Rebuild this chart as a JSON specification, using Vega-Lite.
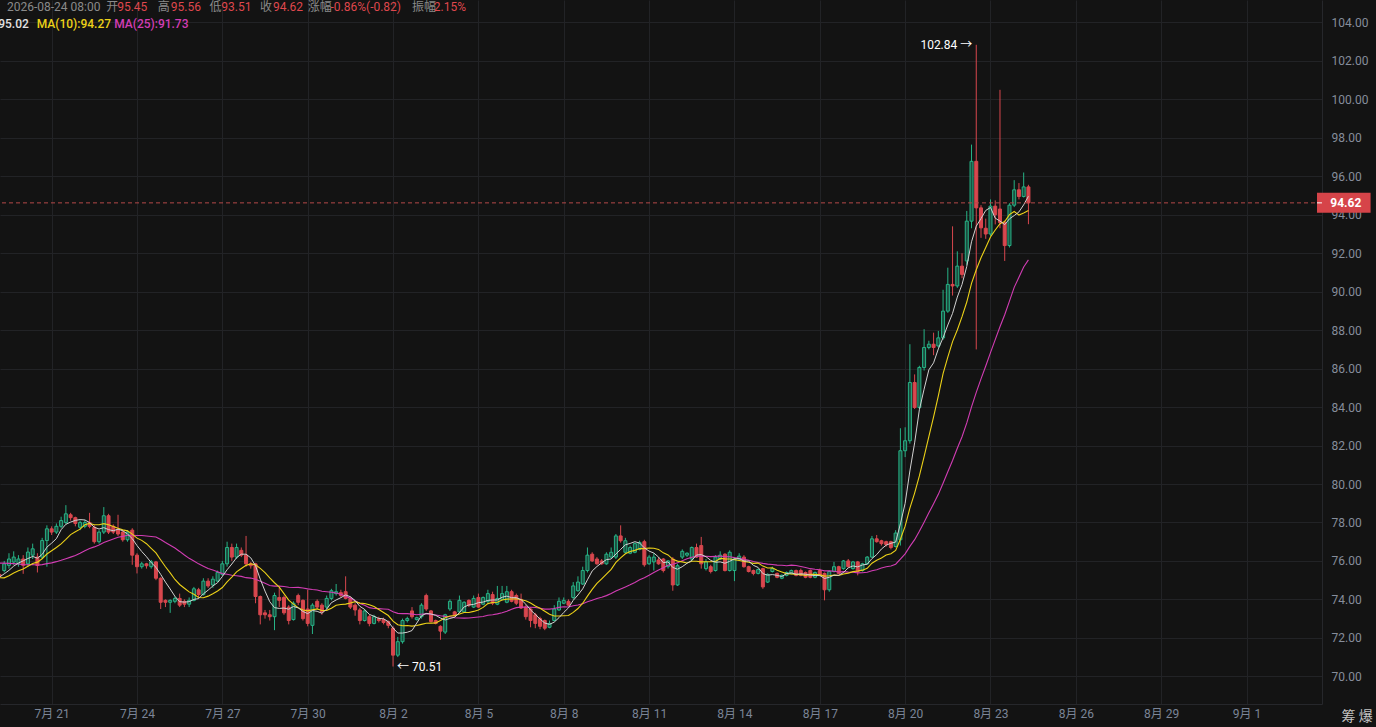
{
  "$schema": "https://vega.github.io/schema/vega-lite/v6.json",
  "width": 1322,
  "height": 704,
  "autosize": {"type": "none"},
  "padding": {"left": 0, "top": 0, "right": 54, "bottom": 23},
  "background": "#131313",
  "config": {
    "view": {"stroke": null},
    "text": {"font": "Roboto, Noto Sans CJK SC"},
    "axis": {"labelFont": "Roboto, Noto Sans CJK SC", "titleFont": "Noto Sans CJK SC"}
  },
  "data": {
    "values": [
      {"t":"2026-07-15T08:00Z","o":76.2,"h":76.6,"l":76.0,"c":76.4},
      {"t":"2026-07-15T12:00Z","o":76.4,"h":76.7,"l":76.2,"c":76.5},
      {"t":"2026-07-15T16:00Z","o":76.5,"h":76.8,"l":76.3,"c":76.6},
      {"t":"2026-07-15T20:00Z","o":76.6,"h":76.9,"l":76.4,"c":76.7},
      {"t":"2026-07-16T00:00Z","o":76.7,"h":76.9,"l":76.3,"c":76.4},
      {"t":"2026-07-16T04:00Z","o":76.4,"h":76.7,"l":76.2,"c":76.5},
      {"t":"2026-07-16T08:00Z","o":76.5,"h":76.8,"l":76.3,"c":76.6},
      {"t":"2026-07-16T12:00Z","o":76.6,"h":76.7,"l":76.2,"c":76.3},
      {"t":"2026-07-16T16:00Z","o":76.3,"h":76.6,"l":76.1,"c":76.4},
      {"t":"2026-07-16T20:00Z","o":76.4,"h":76.7,"l":76.2,"c":76.5},
      {"t":"2026-07-17T00:00Z","o":76.5,"h":76.6,"l":76.1,"c":76.2},
      {"t":"2026-07-17T04:00Z","o":76.2,"h":76.5,"l":76.0,"c":76.3},
      {"t":"2026-07-17T08:00Z","o":76.3,"h":76.6,"l":76.1,"c":76.4},
      {"t":"2026-07-17T12:00Z","o":76.4,"h":76.5,"l":76.0,"c":76.2},
      {"t":"2026-07-17T16:00Z","o":76.2,"h":76.4,"l":75.7,"c":75.9},
      {"t":"2026-07-17T20:00Z","o":75.9,"h":76.0,"l":74.8,"c":75.0},
      {"t":"2026-07-18T00:00Z","o":75.0,"h":75.2,"l":74.6,"c":74.8},
      {"t":"2026-07-18T04:00Z","o":74.8,"h":75.1,"l":74.6,"c":74.9},
      {"t":"2026-07-18T08:00Z","o":74.9,"h":75.1,"l":74.7,"c":74.85},
      {"t":"2026-07-18T12:00Z","o":74.85,"h":75.2,"l":74.8,"c":75.0},
      {"t":"2026-07-18T16:00Z","o":75.0,"h":75.4,"l":74.9,"c":75.2},
      {"t":"2026-07-18T20:00Z","o":75.2,"h":75.4,"l":75.0,"c":75.1},
      {"t":"2026-07-19T00:00Z","o":75.1,"h":75.5,"l":75.0,"c":75.3},
      {"t":"2026-07-19T04:00Z","o":75.3,"h":75.5,"l":75.0,"c":75.2},
      {"t":"2026-07-19T08:00Z","o":75.5,"h":76.0,"l":75.4,"c":75.85},
      {"t":"2026-07-19T12:00Z","o":75.77,"h":76.4,"l":75.6,"c":76.1},
      {"t":"2026-07-19T16:00Z","o":75.94,"h":76.5,"l":75.8,"c":76.2},
      {"t":"2026-07-19T20:00Z","o":75.85,"h":76.3,"l":75.7,"c":76.1},
      {"t":"2026-07-20T00:00Z","o":76.1,"h":76.3,"l":75.33,"c":75.77},
      {"t":"2026-07-20T04:00Z","o":75.85,"h":76.7,"l":75.7,"c":76.46},
      {"t":"2026-07-20T08:00Z","o":76.3,"h":76.9,"l":76.1,"c":76.63},
      {"t":"2026-07-20T12:00Z","o":76.2,"h":76.4,"l":75.4,"c":75.77},
      {"t":"2026-07-20T16:00Z","o":76.2,"h":77.2,"l":76.1,"c":77.06},
      {"t":"2026-07-20T20:00Z","o":77.06,"h":77.85,"l":75.7,"c":77.67},
      {"t":"2026-07-21T00:00Z","o":77.67,"h":77.8,"l":77.35,"c":77.5},
      {"t":"2026-07-21T04:00Z","o":77.5,"h":77.95,"l":77.4,"c":77.8},
      {"t":"2026-07-21T08:00Z","o":77.8,"h":78.3,"l":77.7,"c":78.1},
      {"t":"2026-07-21T12:00Z","o":78.0,"h":78.9,"l":77.9,"c":78.45},
      {"t":"2026-07-21T16:00Z","o":78.4,"h":78.5,"l":78.1,"c":78.25},
      {"t":"2026-07-21T20:00Z","o":78.25,"h":78.3,"l":77.8,"c":77.95},
      {"t":"2026-07-22T00:00Z","o":77.75,"h":78.1,"l":77.6,"c":78.0},
      {"t":"2026-07-22T04:00Z","o":77.8,"h":78.15,"l":77.7,"c":78.0},
      {"t":"2026-07-22T08:00Z","o":78.0,"h":78.5,"l":77.7,"c":77.8},
      {"t":"2026-07-22T12:00Z","o":77.75,"h":77.85,"l":76.9,"c":77.0},
      {"t":"2026-07-22T16:00Z","o":77.0,"h":77.6,"l":76.9,"c":77.5},
      {"t":"2026-07-22T20:00Z","o":77.5,"h":78.8,"l":77.4,"c":78.35},
      {"t":"2026-07-23T00:00Z","o":78.35,"h":78.45,"l":77.4,"c":77.5},
      {"t":"2026-07-23T04:00Z","o":77.8,"h":77.9,"l":77.4,"c":77.5},
      {"t":"2026-07-23T08:00Z","o":77.65,"h":78.4,"l":77.3,"c":77.4},
      {"t":"2026-07-23T12:00Z","o":77.5,"h":77.6,"l":77.0,"c":77.1},
      {"t":"2026-07-23T16:00Z","o":77.1,"h":77.6,"l":77.0,"c":77.5},
      {"t":"2026-07-23T20:00Z","o":77.6,"h":77.7,"l":75.8,"c":76.3},
      {"t":"2026-07-24T00:00Z","o":76.3,"h":76.4,"l":75.35,"c":75.7},
      {"t":"2026-07-24T04:00Z","o":75.7,"h":75.95,"l":75.6,"c":75.85},
      {"t":"2026-07-24T08:00Z","o":75.85,"h":75.9,"l":75.6,"c":75.75},
      {"t":"2026-07-24T12:00Z","o":75.7,"h":76.05,"l":75.6,"c":75.95},
      {"t":"2026-07-24T16:00Z","o":75.95,"h":76.0,"l":75.0,"c":75.1},
      {"t":"2026-07-24T20:00Z","o":75.1,"h":75.15,"l":73.5,"c":73.85},
      {"t":"2026-07-25T00:00Z","o":73.95,"h":74.0,"l":73.6,"c":73.85},
      {"t":"2026-07-25T04:00Z","o":73.85,"h":74.0,"l":73.3,"c":73.95},
      {"t":"2026-07-25T08:00Z","o":73.9,"h":74.15,"l":73.8,"c":74.05},
      {"t":"2026-07-25T12:00Z","o":74.05,"h":74.3,"l":73.6,"c":73.7},
      {"t":"2026-07-25T16:00Z","o":73.9,"h":74.0,"l":73.6,"c":73.75},
      {"t":"2026-07-25T20:00Z","o":73.75,"h":74.1,"l":73.6,"c":73.95},
      {"t":"2026-07-26T00:00Z","o":73.95,"h":74.65,"l":73.9,"c":74.55},
      {"t":"2026-07-26T04:00Z","o":74.5,"h":74.6,"l":74.1,"c":74.25},
      {"t":"2026-07-26T08:00Z","o":74.25,"h":75.1,"l":74.2,"c":74.95},
      {"t":"2026-07-26T12:00Z","o":74.95,"h":75.1,"l":74.6,"c":74.7},
      {"t":"2026-07-26T16:00Z","o":74.75,"h":75.2,"l":74.6,"c":75.05},
      {"t":"2026-07-26T20:00Z","o":74.95,"h":75.5,"l":74.9,"c":75.4},
      {"t":"2026-07-27T00:00Z","o":75.3,"h":76.0,"l":75.2,"c":75.85},
      {"t":"2026-07-27T04:00Z","o":75.85,"h":77.0,"l":75.7,"c":76.7},
      {"t":"2026-07-27T08:00Z","o":76.7,"h":76.9,"l":76.0,"c":76.2},
      {"t":"2026-07-27T12:00Z","o":76.2,"h":76.9,"l":76.1,"c":76.7},
      {"t":"2026-07-27T16:00Z","o":76.55,"h":76.7,"l":76.2,"c":76.3},
      {"t":"2026-07-27T20:00Z","o":76.3,"h":77.3,"l":75.7,"c":75.85},
      {"t":"2026-07-28T00:00Z","o":75.85,"h":75.95,"l":75.6,"c":75.75},
      {"t":"2026-07-28T04:00Z","o":75.85,"h":75.9,"l":73.8,"c":74.15},
      {"t":"2026-07-28T08:00Z","o":74.15,"h":74.2,"l":72.7,"c":73.2},
      {"t":"2026-07-28T12:00Z","o":73.3,"h":73.45,"l":73.0,"c":73.2},
      {"t":"2026-07-28T16:00Z","o":73.2,"h":73.45,"l":72.9,"c":73.1},
      {"t":"2026-07-28T20:00Z","o":73.1,"h":74.35,"l":72.4,"c":74.2},
      {"t":"2026-07-29T00:00Z","o":74.1,"h":74.6,"l":73.6,"c":73.95},
      {"t":"2026-07-29T04:00Z","o":74.1,"h":74.2,"l":73.2,"c":73.3},
      {"t":"2026-07-29T08:00Z","o":73.6,"h":73.7,"l":72.7,"c":72.9},
      {"t":"2026-07-29T12:00Z","o":72.95,"h":73.9,"l":72.9,"c":73.8},
      {"t":"2026-07-29T16:00Z","o":74.2,"h":74.3,"l":73.7,"c":73.85},
      {"t":"2026-07-29T20:00Z","o":73.95,"h":74.0,"l":72.9,"c":73.0},
      {"t":"2026-07-30T00:00Z","o":73.5,"h":74.5,"l":72.6,"c":72.75},
      {"t":"2026-07-30T04:00Z","o":72.65,"h":73.8,"l":72.2,"c":73.7},
      {"t":"2026-07-30T08:00Z","o":73.9,"h":74.0,"l":73.5,"c":73.6},
      {"t":"2026-07-30T12:00Z","o":73.7,"h":73.8,"l":73.2,"c":73.35},
      {"t":"2026-07-30T16:00Z","o":73.6,"h":74.2,"l":73.5,"c":74.05},
      {"t":"2026-07-30T20:00Z","o":74.05,"h":74.55,"l":73.95,"c":74.45},
      {"t":"2026-07-31T00:00Z","o":74.3,"h":74.8,"l":74.2,"c":74.4},
      {"t":"2026-07-31T04:00Z","o":74.35,"h":74.5,"l":74.1,"c":74.2},
      {"t":"2026-07-31T08:00Z","o":74.4,"h":75.2,"l":74.0,"c":74.05},
      {"t":"2026-07-31T12:00Z","o":74.05,"h":74.15,"l":73.5,"c":73.6},
      {"t":"2026-07-31T16:00Z","o":73.7,"h":73.8,"l":73.15,"c":73.45},
      {"t":"2026-07-31T20:00Z","o":73.45,"h":73.55,"l":72.7,"c":72.9},
      {"t":"2026-08-01T00:00Z","o":72.9,"h":73.5,"l":72.85,"c":73.4},
      {"t":"2026-08-01T04:00Z","o":73.1,"h":73.2,"l":72.6,"c":72.75},
      {"t":"2026-08-01T08:00Z","o":72.75,"h":73.2,"l":72.7,"c":73.1},
      {"t":"2026-08-01T12:00Z","o":73.0,"h":73.1,"l":72.8,"c":72.9},
      {"t":"2026-08-01T16:00Z","o":72.95,"h":73.05,"l":72.7,"c":72.8},
      {"t":"2026-08-01T20:00Z","o":72.85,"h":72.9,"l":72.5,"c":72.65},
      {"t":"2026-08-02T00:00Z","o":72.5,"h":72.6,"l":70.51,"c":71.1},
      {"t":"2026-08-02T04:00Z","o":71.1,"h":72.05,"l":71.0,"c":71.8},
      {"t":"2026-08-02T08:00Z","o":71.8,"h":73.0,"l":71.7,"c":72.9},
      {"t":"2026-08-02T12:00Z","o":72.9,"h":73.1,"l":72.8,"c":73.0},
      {"t":"2026-08-02T16:00Z","o":73.4,"h":73.6,"l":73.0,"c":73.1},
      {"t":"2026-08-02T20:00Z","o":72.95,"h":73.1,"l":72.9,"c":73.05},
      {"t":"2026-08-03T00:00Z","o":73.1,"h":73.8,"l":73.0,"c":73.7},
      {"t":"2026-08-03T04:00Z","o":74.2,"h":74.3,"l":73.4,"c":73.5},
      {"t":"2026-08-03T08:00Z","o":73.4,"h":73.45,"l":72.8,"c":72.85},
      {"t":"2026-08-03T12:00Z","o":72.9,"h":72.95,"l":72.7,"c":72.75},
      {"t":"2026-08-03T16:00Z","o":72.6,"h":72.65,"l":71.9,"c":72.35},
      {"t":"2026-08-03T20:00Z","o":72.3,"h":73.25,"l":72.2,"c":73.2},
      {"t":"2026-08-04T00:00Z","o":73.5,"h":74.0,"l":73.4,"c":73.9},
      {"t":"2026-08-04T04:00Z","o":73.35,"h":73.4,"l":73.1,"c":73.15},
      {"t":"2026-08-04T08:00Z","o":73.35,"h":74.2,"l":73.3,"c":73.95},
      {"t":"2026-08-04T12:00Z","o":73.35,"h":73.9,"l":73.3,"c":73.85},
      {"t":"2026-08-04T16:00Z","o":73.95,"h":74.0,"l":73.6,"c":73.7},
      {"t":"2026-08-04T20:00Z","o":73.6,"h":74.2,"l":73.55,"c":74.05},
      {"t":"2026-08-05T00:00Z","o":74.1,"h":74.3,"l":73.55,"c":73.6},
      {"t":"2026-08-05T04:00Z","o":73.75,"h":74.15,"l":73.7,"c":74.1},
      {"t":"2026-08-05T08:00Z","o":73.9,"h":74.5,"l":73.8,"c":74.3},
      {"t":"2026-08-05T12:00Z","o":74.25,"h":74.4,"l":73.7,"c":73.8},
      {"t":"2026-08-05T16:00Z","o":73.75,"h":74.7,"l":73.7,"c":74.05},
      {"t":"2026-08-05T20:00Z","o":74.0,"h":74.7,"l":73.95,"c":74.3},
      {"t":"2026-08-06T00:00Z","o":73.85,"h":74.7,"l":73.8,"c":74.4},
      {"t":"2026-08-06T04:00Z","o":74.4,"h":74.5,"l":73.85,"c":73.9},
      {"t":"2026-08-06T08:00Z","o":74.2,"h":74.3,"l":73.7,"c":73.8},
      {"t":"2026-08-06T12:00Z","o":74.0,"h":74.3,"l":73.5,"c":73.55},
      {"t":"2026-08-06T16:00Z","o":73.6,"h":73.7,"l":72.95,"c":73.1},
      {"t":"2026-08-06T20:00Z","o":73.5,"h":73.6,"l":72.55,"c":72.9},
      {"t":"2026-08-07T00:00Z","o":73.2,"h":73.3,"l":72.5,"c":72.75},
      {"t":"2026-08-07T04:00Z","o":73.0,"h":73.1,"l":72.45,"c":72.6},
      {"t":"2026-08-07T08:00Z","o":72.9,"h":72.95,"l":72.4,"c":72.5},
      {"t":"2026-08-07T12:00Z","o":72.55,"h":72.9,"l":72.5,"c":72.75},
      {"t":"2026-08-07T16:00Z","o":72.9,"h":73.7,"l":72.85,"c":73.5},
      {"t":"2026-08-07T20:00Z","o":73.45,"h":74.1,"l":73.4,"c":73.9},
      {"t":"2026-08-08T00:00Z","o":73.8,"h":74.1,"l":73.75,"c":73.95},
      {"t":"2026-08-08T04:00Z","o":73.9,"h":74.0,"l":73.65,"c":73.7},
      {"t":"2026-08-08T08:00Z","o":74.1,"h":74.9,"l":74.0,"c":74.7},
      {"t":"2026-08-08T12:00Z","o":74.45,"h":75.2,"l":74.4,"c":74.9},
      {"t":"2026-08-08T16:00Z","o":74.8,"h":75.7,"l":74.75,"c":75.5},
      {"t":"2026-08-08T20:00Z","o":75.5,"h":76.7,"l":75.4,"c":76.3},
      {"t":"2026-08-09T00:00Z","o":76.35,"h":76.45,"l":75.95,"c":76.0},
      {"t":"2026-08-09T04:00Z","o":76.1,"h":76.2,"l":75.8,"c":75.85},
      {"t":"2026-08-09T08:00Z","o":76.0,"h":76.1,"l":75.8,"c":75.85},
      {"t":"2026-08-09T12:00Z","o":75.85,"h":76.45,"l":75.8,"c":76.35},
      {"t":"2026-08-09T16:00Z","o":76.2,"h":76.7,"l":76.15,"c":76.45},
      {"t":"2026-08-09T20:00Z","o":76.2,"h":77.4,"l":76.1,"c":77.3},
      {"t":"2026-08-10T00:00Z","o":77.3,"h":77.85,"l":76.95,"c":77.05},
      {"t":"2026-08-10T04:00Z","o":76.45,"h":77.2,"l":76.4,"c":77.05},
      {"t":"2026-08-10T08:00Z","o":76.4,"h":76.8,"l":76.35,"c":76.7},
      {"t":"2026-08-10T12:00Z","o":76.45,"h":76.95,"l":76.4,"c":76.9},
      {"t":"2026-08-10T16:00Z","o":76.6,"h":77.05,"l":76.55,"c":76.95},
      {"t":"2026-08-10T20:00Z","o":77.0,"h":77.1,"l":75.7,"c":75.8},
      {"t":"2026-08-11T00:00Z","o":75.85,"h":76.3,"l":75.8,"c":76.2},
      {"t":"2026-08-11T04:00Z","o":75.95,"h":76.4,"l":75.5,"c":76.2},
      {"t":"2026-08-11T08:00Z","o":76.05,"h":76.2,"l":75.8,"c":75.85},
      {"t":"2026-08-11T12:00Z","o":76.1,"h":76.15,"l":75.4,"c":75.5},
      {"t":"2026-08-11T16:00Z","o":75.7,"h":76.05,"l":75.6,"c":76.0},
      {"t":"2026-08-11T20:00Z","o":76.1,"h":76.2,"l":74.45,"c":74.75},
      {"t":"2026-08-12T00:00Z","o":74.75,"h":75.85,"l":74.7,"c":75.75},
      {"t":"2026-08-12T04:00Z","o":76.2,"h":76.6,"l":76.1,"c":76.5},
      {"t":"2026-08-12T08:00Z","o":76.3,"h":76.45,"l":76.2,"c":76.4},
      {"t":"2026-08-12T12:00Z","o":76.1,"h":76.75,"l":76.0,"c":76.7},
      {"t":"2026-08-12T16:00Z","o":76.7,"h":76.9,"l":76.15,"c":76.2},
      {"t":"2026-08-12T20:00Z","o":76.8,"h":77.25,"l":75.6,"c":75.85},
      {"t":"2026-08-13T00:00Z","o":75.6,"h":76.1,"l":75.5,"c":75.95},
      {"t":"2026-08-13T04:00Z","o":75.7,"h":75.8,"l":75.35,"c":75.45},
      {"t":"2026-08-13T08:00Z","o":75.5,"h":76.3,"l":75.45,"c":76.2},
      {"t":"2026-08-13T12:00Z","o":76.1,"h":76.5,"l":76.05,"c":76.3},
      {"t":"2026-08-13T16:00Z","o":76.35,"h":76.4,"l":75.45,"c":75.5},
      {"t":"2026-08-13T20:00Z","o":75.5,"h":76.55,"l":75.45,"c":76.45},
      {"t":"2026-08-14T00:00Z","o":75.5,"h":76.2,"l":74.95,"c":76.1},
      {"t":"2026-08-14T04:00Z","o":76.1,"h":76.4,"l":76.0,"c":76.25},
      {"t":"2026-08-14T08:00Z","o":76.2,"h":76.3,"l":75.65,"c":75.7},
      {"t":"2026-08-14T12:00Z","o":75.7,"h":75.75,"l":75.4,"c":75.45},
      {"t":"2026-08-14T16:00Z","o":75.5,"h":75.55,"l":75.25,"c":75.35},
      {"t":"2026-08-14T20:00Z","o":75.35,"h":75.6,"l":75.3,"c":75.55},
      {"t":"2026-08-15T00:00Z","o":75.6,"h":75.65,"l":74.55,"c":74.65},
      {"t":"2026-08-15T04:00Z","o":74.9,"h":75.35,"l":74.85,"c":75.3},
      {"t":"2026-08-15T08:00Z","o":75.45,"h":75.7,"l":75.4,"c":75.6},
      {"t":"2026-08-15T12:00Z","o":75.35,"h":75.4,"l":75.1,"c":75.15},
      {"t":"2026-08-15T16:00Z","o":75.1,"h":75.3,"l":75.05,"c":75.25},
      {"t":"2026-08-15T20:00Z","o":75.25,"h":75.45,"l":75.2,"c":75.4},
      {"t":"2026-08-16T00:00Z","o":75.35,"h":75.55,"l":75.3,"c":75.5},
      {"t":"2026-08-16T04:00Z","o":75.5,"h":75.55,"l":75.2,"c":75.25},
      {"t":"2026-08-16T08:00Z","o":75.5,"h":75.6,"l":75.2,"c":75.25},
      {"t":"2026-08-16T12:00Z","o":75.4,"h":75.45,"l":75.1,"c":75.15},
      {"t":"2026-08-16T16:00Z","o":75.5,"h":75.55,"l":75.1,"c":75.15},
      {"t":"2026-08-16T20:00Z","o":75.15,"h":75.45,"l":75.1,"c":75.4},
      {"t":"2026-08-17T00:00Z","o":75.5,"h":75.6,"l":75.2,"c":75.25},
      {"t":"2026-08-17T04:00Z","o":75.35,"h":75.4,"l":73.95,"c":74.5},
      {"t":"2026-08-17T08:00Z","o":74.5,"h":75.5,"l":74.4,"c":75.45},
      {"t":"2026-08-17T12:00Z","o":75.45,"h":75.95,"l":75.4,"c":75.7},
      {"t":"2026-08-17T16:00Z","o":75.7,"h":75.75,"l":75.3,"c":75.35},
      {"t":"2026-08-17T20:00Z","o":75.6,"h":76.05,"l":75.55,"c":76.0},
      {"t":"2026-08-18T00:00Z","o":76.0,"h":76.1,"l":75.65,"c":75.7},
      {"t":"2026-08-18T04:00Z","o":75.6,"h":76.0,"l":75.55,"c":75.95},
      {"t":"2026-08-18T08:00Z","o":75.95,"h":76.0,"l":75.25,"c":75.45},
      {"t":"2026-08-18T12:00Z","o":75.5,"h":75.9,"l":75.45,"c":75.85},
      {"t":"2026-08-18T16:00Z","o":75.85,"h":76.25,"l":75.8,"c":76.2},
      {"t":"2026-08-18T20:00Z","o":76.2,"h":77.3,"l":76.15,"c":77.15},
      {"t":"2026-08-19T00:00Z","o":77.15,"h":77.35,"l":76.95,"c":77.0},
      {"t":"2026-08-19T04:00Z","o":77.05,"h":77.1,"l":76.8,"c":76.9},
      {"t":"2026-08-19T08:00Z","o":77.0,"h":77.05,"l":76.75,"c":76.85},
      {"t":"2026-08-19T12:00Z","o":77.0,"h":77.05,"l":76.6,"c":76.7},
      {"t":"2026-08-19T16:00Z","o":76.75,"h":77.6,"l":76.7,"c":77.45},
      {"t":"2026-08-19T20:00Z","o":77.1,"h":82.9,"l":76.8,"c":81.73},
      {"t":"2026-08-20T00:00Z","o":81.73,"h":82.95,"l":81.4,"c":82.25},
      {"t":"2026-08-20T04:00Z","o":82.25,"h":87.27,"l":82.1,"c":85.28},
      {"t":"2026-08-20T08:00Z","o":85.28,"h":85.7,"l":83.9,"c":83.98},
      {"t":"2026-08-20T12:00Z","o":83.98,"h":86.15,"l":83.9,"c":86.06},
      {"t":"2026-08-20T16:00Z","o":86.06,"h":88.05,"l":85.9,"c":87.1},
      {"t":"2026-08-20T20:00Z","o":87.1,"h":87.45,"l":87.0,"c":87.27},
      {"t":"2026-08-21T00:00Z","o":87.27,"h":87.87,"l":86.7,"c":87.1},
      {"t":"2026-08-21T04:00Z","o":87.18,"h":87.96,"l":87.1,"c":87.6},
      {"t":"2026-08-21T08:00Z","o":87.6,"h":90.1,"l":87.5,"c":88.99},
      {"t":"2026-08-21T12:00Z","o":88.99,"h":91.25,"l":88.9,"c":90.38},
      {"t":"2026-08-21T16:00Z","o":90.38,"h":93.4,"l":89.8,"c":90.3},
      {"t":"2026-08-21T20:00Z","o":90.3,"h":92.1,"l":90.2,"c":91.33},
      {"t":"2026-08-22T00:00Z","o":91.33,"h":92.0,"l":90.7,"c":90.9},
      {"t":"2026-08-22T04:00Z","o":91.6,"h":94.2,"l":91.4,"c":93.67},
      {"t":"2026-08-22T08:00Z","o":93.67,"h":97.65,"l":93.3,"c":96.78},
      {"t":"2026-08-22T12:00Z","o":96.78,"h":102.84,"l":87.0,"c":94.36},
      {"t":"2026-08-22T16:00Z","o":94.36,"h":94.5,"l":92.8,"c":93.32},
      {"t":"2026-08-22T20:00Z","o":93.3,"h":93.8,"l":92.75,"c":93.0},
      {"t":"2026-08-23T00:00Z","o":93.0,"h":94.8,"l":92.9,"c":94.45},
      {"t":"2026-08-23T04:00Z","o":94.45,"h":94.75,"l":93.5,"c":94.0},
      {"t":"2026-08-23T08:00Z","o":94.3,"h":100.5,"l":93.3,"c":93.6},
      {"t":"2026-08-23T12:00Z","o":93.6,"h":93.7,"l":91.6,"c":92.4},
      {"t":"2026-08-23T16:00Z","o":92.4,"h":94.6,"l":92.3,"c":94.5},
      {"t":"2026-08-23T20:00Z","o":94.5,"h":95.8,"l":94.4,"c":95.3},
      {"t":"2026-08-24T00:00Z","o":95.3,"h":95.65,"l":94.8,"c":94.95},
      {"t":"2026-08-24T04:00Z","o":94.95,"h":96.2,"l":94.9,"c":95.45},
      {"t":"2026-08-24T08:00Z","o":95.45,"h":95.56,"l":93.51,"c":94.62}
    ]
  },
  "layer": [
    {
      "mark": {"type": "rule", "strokeWidth": 1, "clip": true},
      "encoding": {
        "x": {
          "field": "t",
          "type": "temporal",
          "scale": {"type": "utc", "domain": [1784450344000, 1788434790000]},
          "axis": {
            "orient": "bottom",
            "values": [
              {"year": 2026, "month": 7, "date": 21, "utc": true},
              {"year": 2026, "month": 7, "date": 24, "utc": true},
              {"year": 2026, "month": 7, "date": 27, "utc": true},
              {"year": 2026, "month": 7, "date": 30, "utc": true},
              {"year": 2026, "month": 8, "date": 2, "utc": true},
              {"year": 2026, "month": 8, "date": 5, "utc": true},
              {"year": 2026, "month": 8, "date": 8, "utc": true},
              {"year": 2026, "month": 8, "date": 11, "utc": true},
              {"year": 2026, "month": 8, "date": 14, "utc": true},
              {"year": 2026, "month": 8, "date": 17, "utc": true},
              {"year": 2026, "month": 8, "date": 20, "utc": true},
              {"year": 2026, "month": 8, "date": 23, "utc": true},
              {"year": 2026, "month": 8, "date": 26, "utc": true},
              {"year": 2026, "month": 8, "date": 29, "utc": true},
              {"year": 2026, "month": 9, "date": 1, "utc": true}
            ],
            "labelExpr": "utcFormat(datum.value, '%-m月 %-d')",
            "labelColor": "#7b8597",
            "labelFontSize": 12,
            "labelPadding": 4,
            "labelFlush": false,
            "labelOverlap": false,
            "ticks": false,
            "domainColor": "#26272b",
            "grid": true,
            "gridColor": "#222326",
            "title": "筹  爆",
            "titleX": 1341,
            "titleY": 12,
            "titleAlign": "left",
            "titleBaseline": "middle",
            "titleAngle": 0,
            "titleColor": "#c4c4c4",
            "titleFontSize": 14,
            "titleFontWeight": "normal"
          }
        },
        "y": {
          "field": "l",
          "type": "quantitative",
          "scale": {"domain": [68.56, 105.17], "nice": false, "zero": false},
          "axis": {
            "orient": "right",
            "title": null,
            "values": [70, 72, 74, 76, 78, 80, 82, 84, 86, 88, 90, 92, 94, 96, 98, 100, 102, 104],
            "format": ".2f",
            "labelColor": "#868d9b",
            "labelFontSize": 12,
            "labelPadding": 9,
            "ticks": false,
            "domainColor": "#26272b",
            "grid": true,
            "gridColor": "#222326"
          }
        },
        "y2": {"field": "h"},
        "color": {
          "condition": {"test": "datum.c >= datum.o", "value": "#27b386"},
          "value": "#d8474e"
        }
      }
    },
    {
      "mark": {"type": "bar", "size": 3, "strokeWidth": 1, "clip": true},
      "encoding": {
        "x": {"field": "t", "type": "temporal"},
        "y": {"field": "o", "type": "quantitative"},
        "y2": {"field": "c"},
        "fill": {
          "condition": {"test": "datum.c >= datum.o", "value": "#1b4f40"},
          "value": "#d8474e"
        },
        "stroke": {
          "condition": {"test": "datum.c >= datum.o", "value": "#27b386"},
          "value": "#d8474e"
        }
      }
    },
    {
      "transform": [
        {"window": [{"op": "mean", "field": "c", "as": "ma"}], "frame": [-24, 0], "sort": [{"field": "t"}]}
      ],
      "mark": {"type": "line", "color": "#d23db4", "strokeWidth": 1.1, "clip": true},
      "encoding": {
        "x": {"field": "t", "type": "temporal"},
        "y": {"field": "ma", "type": "quantitative"}
      }
    },
    {
      "transform": [
        {"window": [{"op": "mean", "field": "c", "as": "ma"}], "frame": [-9, 0], "sort": [{"field": "t"}]}
      ],
      "mark": {"type": "line", "color": "#ecd118", "strokeWidth": 1.1, "clip": true},
      "encoding": {
        "x": {"field": "t", "type": "temporal"},
        "y": {"field": "ma", "type": "quantitative"}
      }
    },
    {
      "transform": [
        {"window": [{"op": "mean", "field": "c", "as": "ma"}], "frame": [-4, 0], "sort": [{"field": "t"}]}
      ],
      "mark": {"type": "line", "color": "#d2d2d2", "strokeWidth": 1, "clip": true},
      "encoding": {
        "x": {"field": "t", "type": "temporal"},
        "y": {"field": "ma", "type": "quantitative"}
      }
    },
    {
      "data": {"values": [{}]},
      "mark": {"type": "rule", "color": "#b54848", "strokeWidth": 1, "strokeDash": [4, 3]},
      "encoding": {"y": {"datum": 94.62}}
    },
    {
      "data": {"values": [{}]},
      "mark": {"type": "rect", "color": "#d64449", "clip": false},
      "encoding": {
        "x": {"datum": 1788434789866, "type": "temporal"},
        "x2": {"datum": 1788597543328},
        "y": {"datum": 94.11},
        "y2": {"datum": 95.15}
      }
    },
    {
      "data": {"values": [{}]},
      "mark": {"type": "rule", "color": "#ffffff", "strokeWidth": 1, "clip": false},
      "encoding": {
        "x": {"datum": 1788434789866, "type": "temporal"},
        "x2": {"datum": 1788449859631},
        "y": {"datum": 94.62}
      }
    },
    {
      "data": {"values": [{}]},
      "mark": {"type": "text", "text": "94.62", "color": "#ffffff", "fontWeight": "bold", "fontSize": 12, "align": "center", "baseline": "middle", "clip": false},
      "encoding": {
        "x": {"datum": 1788522194503, "type": "temporal"},
        "y": {"datum": 94.62}
      }
    },
    {
      "transform": [
        {"joinaggregate": [{"op": "max", "field": "h", "as": "hmax"}]},
        {"filter": "datum.h == datum.hmax"}
      ],
      "mark": {"type": "text", "text": "102.84 →", "color": "#ffffff", "fontSize": 12, "align": "right", "baseline": "middle", "dx": -4},
      "encoding": {
        "x": {"field": "t", "type": "temporal"},
        "y": {"field": "h", "type": "quantitative"}
      }
    },
    {
      "transform": [
        {"joinaggregate": [{"op": "min", "field": "l", "as": "lmin"}]},
        {"filter": "datum.l == datum.lmin"}
      ],
      "mark": {"type": "text", "text": "← 70.51", "color": "#ffffff", "fontSize": 12, "align": "left", "baseline": "middle", "dx": 4},
      "encoding": {
        "x": {"field": "t", "type": "temporal"},
        "y": {"field": "l", "type": "quantitative"}
      }
    },
    {
      "data": {"values": [{}]},
      "mark": {"type": "text", "text": "2026-08-24 08:00", "color": "#8a8a8a", "fontSize": 12, "align": "left", "baseline": "alphabetic"},
      "encoding": {"x": {"datum": 1784456371906, "type": "temporal"}, "y": {"datum": 104.6}}
    },
    {
      "data": {"values": [{}]},
      "mark": {"type": "text", "text": "开", "color": "#8a8a8a", "fontSize": 12, "align": "left", "baseline": "alphabetic"},
      "encoding": {"x": {"datum": 1784757767206, "type": "temporal"}, "y": {"datum": 104.6}}
    },
    {
      "data": {"values": [{}]},
      "mark": {"type": "text", "text": "95.45", "color": "#df474d", "fontSize": 12, "align": "left", "baseline": "alphabetic"},
      "encoding": {"x": {"datum": 1784790920689, "type": "temporal"}, "y": {"datum": 104.6}}
    },
    {
      "data": {"values": [{}]},
      "mark": {"type": "text", "text": "高", "color": "#8a8a8a", "fontSize": 12, "align": "left", "baseline": "alphabetic"},
      "encoding": {"x": {"datum": 1784914492762, "type": "temporal"}, "y": {"datum": 104.6}}
    },
    {
      "data": {"values": [{}]},
      "mark": {"type": "text", "text": "95.56", "color": "#df474d", "fontSize": 12, "align": "left", "baseline": "alphabetic"},
      "encoding": {"x": {"datum": 1784953674151, "type": "temporal"}, "y": {"datum": 104.6}}
    },
    {
      "data": {"values": [{}]},
      "mark": {"type": "text", "text": "低", "color": "#8a8a8a", "fontSize": 12, "align": "left", "baseline": "alphabetic"},
      "encoding": {"x": {"datum": 1785071218318, "type": "temporal"}, "y": {"datum": 104.6}}
    },
    {
      "data": {"values": [{}]},
      "mark": {"type": "text", "text": "93.51", "color": "#df474d", "fontSize": 12, "align": "left", "baseline": "alphabetic"},
      "encoding": {"x": {"datum": 1785107385754, "type": "temporal"}, "y": {"datum": 104.6}}
    },
    {
      "data": {"values": [{}]},
      "mark": {"type": "text", "text": "收", "color": "#8a8a8a", "fontSize": 12, "align": "left", "baseline": "alphabetic"},
      "encoding": {"x": {"datum": 1785224929921, "type": "temporal"}, "y": {"datum": 104.6}}
    },
    {
      "data": {"values": [{}]},
      "mark": {"type": "text", "text": "94.62", "color": "#df474d", "fontSize": 12, "align": "left", "baseline": "alphabetic"},
      "encoding": {"x": {"datum": 1785264111310, "type": "temporal"}, "y": {"datum": 104.6}}
    },
    {
      "data": {"values": [{}]},
      "mark": {"type": "text", "text": "涨幅", "color": "#8a8a8a", "fontSize": 12, "align": "left", "baseline": "alphabetic"},
      "encoding": {"x": {"datum": 1785369599665, "type": "temporal"}, "y": {"datum": 104.6}}
    },
    {
      "data": {"values": [{}]},
      "mark": {"type": "text", "text": "-0.86%(-0.82)", "color": "#df474d", "fontSize": 12, "align": "left", "baseline": "alphabetic"},
      "encoding": {"x": {"datum": 1785438920584, "type": "temporal"}, "y": {"datum": 104.6}}
    },
    {
      "data": {"values": [{}]},
      "mark": {"type": "text", "text": "振幅", "color": "#8a8a8a", "fontSize": 12, "align": "left", "baseline": "alphabetic"},
      "encoding": {"x": {"datum": 1785686064730, "type": "temporal"}, "y": {"datum": 104.6}}
    },
    {
      "data": {"values": [{}]},
      "mark": {"type": "text", "text": "2.15%", "color": "#df474d", "fontSize": 12, "align": "left", "baseline": "alphabetic"},
      "encoding": {"x": {"datum": 1785752371696, "type": "temporal"}, "y": {"datum": 104.6}}
    },
    {
      "data": {"values": [{}]},
      "mark": {"type": "text", "text": "MA(5):95.02", "color": "#e2e2e2", "fontSize": 12, "fontWeight": 500, "align": "right", "baseline": "alphabetic"},
      "encoding": {"x": {"datum": 1784522678872, "type": "temporal"}, "y": {"datum": 103.72}}
    },
    {
      "data": {"values": [{}]},
      "mark": {"type": "text", "text": "MA(10):94.27", "color": "#ecd118", "fontSize": 12, "fontWeight": 500, "align": "left", "baseline": "alphabetic"},
      "encoding": {"x": {"datum": 1784546790496, "type": "temporal"}, "y": {"datum": 103.72}}
    },
    {
      "data": {"values": [{}]},
      "mark": {"type": "text", "text": "MA(25):91.73", "color": "#d23db4", "fontSize": 12, "fontWeight": 500, "align": "left", "baseline": "alphabetic"},
      "encoding": {"x": {"datum": 1784781878830, "type": "temporal"}, "y": {"datum": 103.72}}
    }
  ]
}
